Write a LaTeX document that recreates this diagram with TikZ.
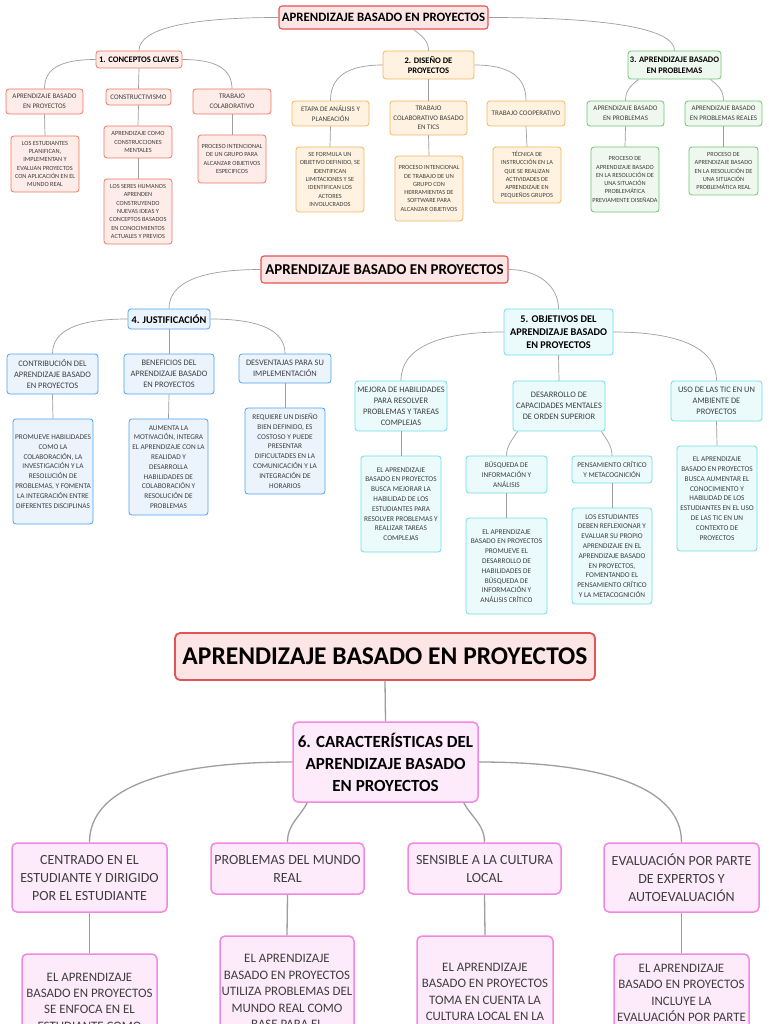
\documentclass[tikz,border=0pt]{standalone}
\usepackage{fontspec}
\setmainfont{Carlito}
\usetikzlibrary{calc}
\definecolor{rootline}{RGB}{228,84,84}
\definecolor{rootfill}{RGB}{253,229,229}
\definecolor{salmonline}{RGB}{240,118,98}
\definecolor{salmonfill}{RGB}{253,236,231}
\definecolor{orangeline}{RGB}{246,182,96}
\definecolor{orangefill}{RGB}{255,242,224}
\definecolor{greenline}{RGB}{112,196,116}
\definecolor{greenfill}{RGB}{239,248,239}
\definecolor{blueline}{RGB}{78,162,236}
\definecolor{bluefill}{RGB}{235,244,253}
\definecolor{cyanline}{RGB}{112,222,232}
\definecolor{cyanfill}{RGB}{235,250,251}
\definecolor{pinkline}{RGB}{245,135,228}
\definecolor{pinkfill}{RGB}{253,235,251}
\definecolor{linkgray}{RGB}{158,158,158}
\definecolor{txtgray}{RGB}{62,62,62}

\begin{document}
\begin{tikzpicture}[x=1pt, y=-1pt,
  sz/.style 2 args={minimum width=#1pt, minimum height=#2pt},
  box/.style={draw, rounded corners=3pt, align=center, inner sep=1pt, line width=0.8pt, text=txtgray},
  rootbox/.style={box, draw=rootline, fill=rootfill, line width=1.1pt, text=black},
  sred/.style={box, draw=salmonline, fill=salmonfill},
  sorange/.style={box, draw=orangeline, fill=orangefill},
  sgreen/.style={box, draw=greenline, fill=greenfill},
  sblue/.style={box, draw=blueline, fill=bluefill},
  scyan/.style={box, draw=cyanline, fill=cyanfill},
  spink/.style={box, draw=pinkline, fill=pinkfill, line width=1.5pt, rounded corners=5pt},
  headA/.style={font=\fontsize{8.5}{10.6}\selectfont\bfseries, text=black},
  midA/.style={font=\fontsize{7}{9.5}\selectfont},
  leafA/.style={font=\fontsize{6.3}{8.3}\selectfont},
  headB/.style={font=\fontsize{10.3}{13}\selectfont\bfseries, text=black},
  midB/.style={font=\fontsize{8.4}{11}\selectfont},
  leafB/.style={font=\fontsize{7.3}{9.8}\selectfont},
  headC/.style={font=\fontsize{17}{22}\selectfont\bfseries, text=black},
  midC/.style={font=\fontsize{14}{18}\selectfont},
  leafC/.style={font=\fontsize{12.9}{16.4}\selectfont},
  link/.style={draw=linkgray, line width=0.7pt},
  linkC/.style={draw=linkgray, line width=1.3pt}
]
  \useasboundingbox (0,0) rectangle (768,1024);
  \fill[white] (0,0) rectangle (768,1024);

  % part one
  \node[rootbox, sz={209}{23}, font=\fontsize{12.8}{15}\selectfont\bfseries] (rootA) at (383.5,17.5) {APRENDIZAJE BASADO EN PROYECTOS};
  \node[sred, headA, sz={86}{17}] (hA1) at (139,59.5) {1. CONCEPTOS CLAVES};
  \node[sorange, headA, sz={91}{28}] (hA2) at (428.5,65) {2. DISEÑO DE\\PROYECTOS};
  \node[sgreen, headA, sz={93}{28}] (hA3) at (674.5,65) {3. APRENDIZAJE BASADO\\EN PROBLEMAS};

  \node[sred, midA, sz={77}{25}] (a11) at (44.5,101.5) {APRENDIZAJE BASADO\\EN PROYECTOS};
  \node[sred, midA, sz={65}{16}] (a12) at (138.5,97) {CONSTRUCTIVISMO};
  \node[sred, midA, sz={78}{25}] (a13) at (232,101.5) {TRABAJO\\COLABORATIVO};
  \node[sred, leafA, sz={68}{56}] (a111) at (45,164) {LOS ESTUDIANTES\\PLANIFICAN,\\IMPLEMENTAN Y\\EVALUAN PROYECTOS\\CON APLICACIÓN EN EL\\MUNDO REAL};
  \node[sred, leafA, sz={68}{32}] (a121) at (138,142) {APRENDIZAJE COMO\\CONSTRUCCIONES\\MENTALES};
  \node[sred, leafA, sz={68}{65}] (a122) at (138,211.5) {LOS SERES HUMANOS\\APRENDEN\\CONSTRUYENDO\\NUEVAS IDEAS Y\\CONCEPTOS BASADOS\\EN CONOCIMIENTOS\\ACTUALES Y PREVIOS};
  \node[sred, leafA, sz={68}{48}] (a131) at (232,159) {PROCESO INTENCIONAL\\DE UN GRUPO PARA\\ALCANZAR OBJETIVOS\\ESPECIFICOS};

  \node[sorange, midA, sz={77}{25}] (a21) at (330.5,113.5) {ETAPA DE ANÁLISIS Y\\PLANEACIÓN};
  \node[sorange, midA, sz={77}{34}] (a22) at (428.5,118) {TRABAJO\\COLABORATIVO BASADO\\EN TICS};
  \node[sorange, midA, sz={78}{25}] (a23) at (526,113.5) {TRABAJO COOPERATIVO};
  \node[sorange, leafA, sz={68}{65}] (a211) at (330,179.5) {SE FORMULA UN\\OBJETIVO DEFINIDO, SE\\IDENTIFICAN\\LIMITACIONES Y SE\\IDENTIFICAN LOS\\ACTORES\\INVOLUCRADOS};
  \node[sorange, leafA, sz={68}{65}] (a221) at (429,188.5) {PROCESO INTENCIONAL\\DE TRABAJO DE UN\\GRUPO CON\\HERRAMIENTAS DE\\SOFTWARE PARA\\ALCANZAR OBJETIVOS};
  \node[sorange, leafA, sz={68}{56}] (a231) at (527,175) {TÉCNICA DE\\INSTRUCCIÓN EN LA\\QUE SE REALIZAN\\ACTIVIDADES DE\\APRENDIZAJE EN\\PEQUEÑOS GRUPOS};

  \node[sgreen, midA, sz={77}{25}] (a31) at (625.5,113.5) {APRENDIZAJE BASADO\\EN PROBLEMAS};
  \node[sgreen, midA, sz={77}{25}] (a32) at (723.5,113.5) {APRENDIZAJE BASADO\\EN PROBLEMAS REALES};
  \node[sgreen, leafA, sz={68}{65}] (a311) at (625,179.5) {PROCESO DE\\APRENDIZAJE BASADO\\EN LA RESOLUCIÓN DE\\UNA SITUACIÓN\\PROBLEMÁTICA\\PREVIAMENTE DISEÑADA};
  \node[sgreen, leafA, sz={69}{48}] (a321) at (723.5,171) {PROCESO DE\\APRENDIZAJE BASADO\\EN LA RESOLUCIÓN DE\\UNA SITUACIÓN\\PROBLEMÁTICA REAL};

  \draw[link] (rootA.west) .. controls +(-90,0) and +(0,-22) .. (hA1.north);
  \draw[link] ($(rootA.south)+(30,0)$) .. controls +(8,6) and +(0,-10) .. (hA2.north);
  \draw[link] (rootA.east) .. controls +(120,0) and +(0,-22) .. (hA3.north);
  \draw[link] (hA1.west) .. controls +(-35,0) and +(0,-20) .. (a11.north);
  \draw[link] (hA1.east) .. controls +(33,0) and +(0,-20) .. (a13.north);
  \draw[link] (hA2.west) .. controls +(-35,0) and +(0,-24) .. (a21.north);
  \draw[link] (hA2.east) .. controls +(35,0) and +(0,-24) .. (a23.north);
  \draw[link] ($(hA3.south west)+(11,0)$) .. controls +(-8,6) and +(0,-10) .. (a31.north);
  \draw[link] ($(hA3.south east)+(-11,0)$) .. controls +(8,6) and +(0,-10) .. (a32.north);
  \foreach \p/\c in {hA1/a12, a11/a111, a12/a121, a121/a122, a13/a131, hA2/a22, a21/a211, a22/a221, a23/a231, a31/a311, a32/a321}
    \draw[link] (\p.south) -- (\c.north);

  % part two
  \node[rootbox, sz={247}{27}, font=\fontsize{15}{18}\selectfont\bfseries] (rootB) at (384.5,269.5) {APRENDIZAJE BASADO EN PROYECTOS};
  \node[sblue, headB, sz={82}{20}] (hB4) at (169,319) {4. JUSTIFICACIÓN};
  \node[scyan, headB, sz={109}{46}] (hB5) at (558.5,332) {5. OBJETIVOS DEL\\APRENDIZAJE BASADO\\EN PROYECTOS};

  \node[sblue, midB, sz={91}{40}] (b41) at (52.5,374) {CONTRIBUCIÓN DEL\\APRENDIZAJE BASADO\\EN PROYECTOS};
  \node[sblue, midB, sz={90}{40}] (b42) at (169,374) {BENEFICIOS DEL\\APRENDIZAJE BASADO\\EN PROYECTOS};
  \node[sblue, midB, sz={92}{29}] (b43) at (285,368.5) {DESVENTAJAS PARA SU\\IMPLEMENTACIÓN};
  \node[sblue, leafB, sz={80}{105}] (b411) at (53,471.5) {PROMUEVE HABILIDADES\\COMO LA\\COLABORACIÓN, LA\\INVESTIGACIÓN Y LA\\RESOLUCIÓN DE\\PROBLEMAS, Y FOMENTA\\LA INTEGRACIÓN ENTRE\\DIFERENTES DISCIPLINAS};
  \node[sblue, leafB, sz={79}{96}] (b421) at (168.5,467) {AUMENTA LA\\MOTIVACIÓN, INTEGRA\\EL APRENDIZAJE CON LA\\REALIDAD Y\\DESARROLLA\\HABILIDADES DE\\COLABORACIÓN Y\\RESOLUCIÓN DE\\PROBLEMAS};
  \node[sblue, leafB, sz={80}{86}] (b431) at (285,451) {REQUIERE UN DISEÑO\\BIEN DEFINIDO, ES\\COSTOSO Y PUEDE\\PRESENTAR\\DIFICULTADES EN LA\\COMUNICACIÓN Y LA\\INTEGRACIÓN DE\\HORARIOS};

  \node[scyan, midB, sz={92}{50}] (b51) at (401,406) {MEJORA DE HABILIDADES\\PARA RESOLVER\\PROBLEMAS Y TAREAS\\COMPLEJAS};
  \node[scyan, midB, sz={92}{50}] (b52) at (559,406) {DESARROLLO DE\\CAPACIDADES MENTALES\\DE ORDEN SUPERIOR};
  \node[scyan, midB, sz={91}{40}] (b53) at (716.5,401) {USO DE LAS TIC EN UN\\AMBIENTE DE\\PROYECTOS};
  \node[scyan, leafB, sz={80}{96}] (b511) at (401,504) {EL APRENDIZAJE\\BASADO EN PROYECTOS\\BUSCA MEJORAR LA\\HABILIDAD DE LOS\\ESTUDIANTES PARA\\RESOLVER PROBLEMAS Y\\REALIZAR TAREAS\\COMPLEJAS};
  \node[scyan, leafB, sz={81}{37}] (b521) at (506.5,474.5) {BÚSQUEDA DE\\INFORMACIÓN Y\\ANÁLISIS};
  \node[scyan, leafB, sz={80}{27}] (b522) at (612,469.5) {PENSAMIENTO CRÍTICO\\Y METACOGNICIÓN};
  \node[scyan, leafB, sz={80}{105}] (b531) at (717,498.5) {EL APRENDIZAJE\\BASADO EN PROYECTOS\\BUSCA AUMENTAR EL\\CONOCIMIENTO Y\\HABILIDAD DE LOS\\ESTUDIANTES EN EL USO\\DE LAS TIC EN UN\\CONTEXTO DE\\PROYECTOS};
  \node[scyan, leafB, sz={81}{96}] (b5211) at (506.5,566) {EL APRENDIZAJE\\BASADO EN PROYECTOS\\PROMUEVE EL\\DESARROLLO DE\\HABILIDADES DE\\BÚSQUEDA DE\\INFORMACIÓN Y\\ANÁLISIS CRÍTICO};
  \node[scyan, leafB, sz={80}{96}] (b5221) at (612,556) {LOS ESTUDIANTES\\DEBEN REFLEXIONAR Y\\EVALUAR SU PROPIO\\APRENDIZAJE EN EL\\APRENDIZAJE BASADO\\EN PROYECTOS,\\FOMENTANDO EL\\PENSAMIENTO CRÍTICO\\Y LA METACOGNICIÓN};

  \draw[link] (rootB.west) .. controls +(-60,0) and +(0,-26) .. (hB4.north);
  \draw[link] (rootB.east) .. controls +(30,0) and +(0,-22) .. (hB5.north);
  \draw[link] (hB4.west) .. controls +(-50,0) and +(0,-23) .. (b41.north);
  \draw[link] (hB4.east) .. controls +(50,0) and +(0,-23) .. (b43.north);
  \draw[link] (hB5.west) .. controls +(-67,0) and +(0,-32) .. (b51.north);
  \draw[link] (hB5.east) .. controls +(67,0) and +(0,-32) .. (b53.north);
  \draw[link] ($(b52.south west)+(5,0)$) .. controls +(-5,8) and +(0,-10) .. (b521.north);
  \draw[link] ($(b52.south east)+(-4,0)$) .. controls +(5,8) and +(0,-10) .. (b522.north);
  \foreach \p/\c in {hB4/b42, b41/b411, b42/b421, b43/b431, hB5/b52, b51/b511, b521/b5211, b522/b5221, b53/b531}
    \draw[link] (\p.south) -- (\c.north);

  % part three
  \node[rootbox, sz={420}{47}, line width=1.8pt, rounded corners=5pt, font=\fontsize{25.5}{30}\selectfont\bfseries] (rootC) at (385,656.5) {APRENDIZAJE BASADO EN PROYECTOS};
  \node[spink, headC, sz={185}{80}] (hC6) at (385.5,762) {6. CARACTERÍSTICAS DEL\\APRENDIZAJE BASADO\\EN PROYECTOS};

  \node[spink, midC, sz={155}{69}] (c1) at (89.5,877.5) {CENTRADO EN EL\\ESTUDIANTE Y DIRIGIDO\\POR EL ESTUDIANTE};
  \node[spink, midC, sz={153}{51}] (c2) at (287.5,868.5) {PROBLEMAS DEL MUNDO\\REAL};
  \node[spink, midC, sz={153}{51}] (c3) at (484.5,868.5) {SENSIBLE A LA CULTURA\\LOCAL};
  \node[spink, midC, sz={155}{69}] (c4) at (681.5,877.5) {EVALUACIÓN POR PARTE\\DE EXPERTOS Y\\AUTOEVALUACIÓN};
  \node[spink, leafC, sz={135}{95}] (c11) at (89.5,1001.5) {EL APRENDIZAJE\\BASADO EN PROYECTOS\\SE ENFOCA EN EL\\ESTUDIANTE COMO};
  \node[spink, leafC, sz={134}{111}] (c21) at (287,991.5) {EL APRENDIZAJE\\BASADO EN PROYECTOS\\UTILIZA PROBLEMAS DEL\\MUNDO REAL COMO\\BASE PARA EL};
  \node[spink, leafC, sz={136}{112}] (c31) at (485,992) {EL APRENDIZAJE\\BASADO EN PROYECTOS\\TOMA EN CUENTA LA\\CULTURA LOCAL EN LA};
  \node[spink, leafC, sz={135}{78}] (c41) at (681.5,993) {EL APRENDIZAJE\\BASADO EN PROYECTOS\\INCLUYE LA\\EVALUACIÓN POR PARTE};

  \draw[linkC] (hC6.west) .. controls +(-130,0) and +(0,-53) .. (c1.north);
  \draw[linkC] ($(hC6.south west)+(15,0)$) .. controls +(-8,15) and +(0,-18) .. (c2.north);
  \draw[linkC] ($(hC6.south east)+(-15,0)$) .. controls +(8,15) and +(0,-18) .. (c3.north);
  \draw[linkC] (hC6.east) .. controls +(130,0) and +(0,-53) .. (c4.north);
  \foreach \p/\c in {rootC/hC6, c1/c11, c2/c21, c3/c31, c4/c41}
    \draw[linkC] (\p.south) -- (\c.north);
\end{tikzpicture}
\end{document}
